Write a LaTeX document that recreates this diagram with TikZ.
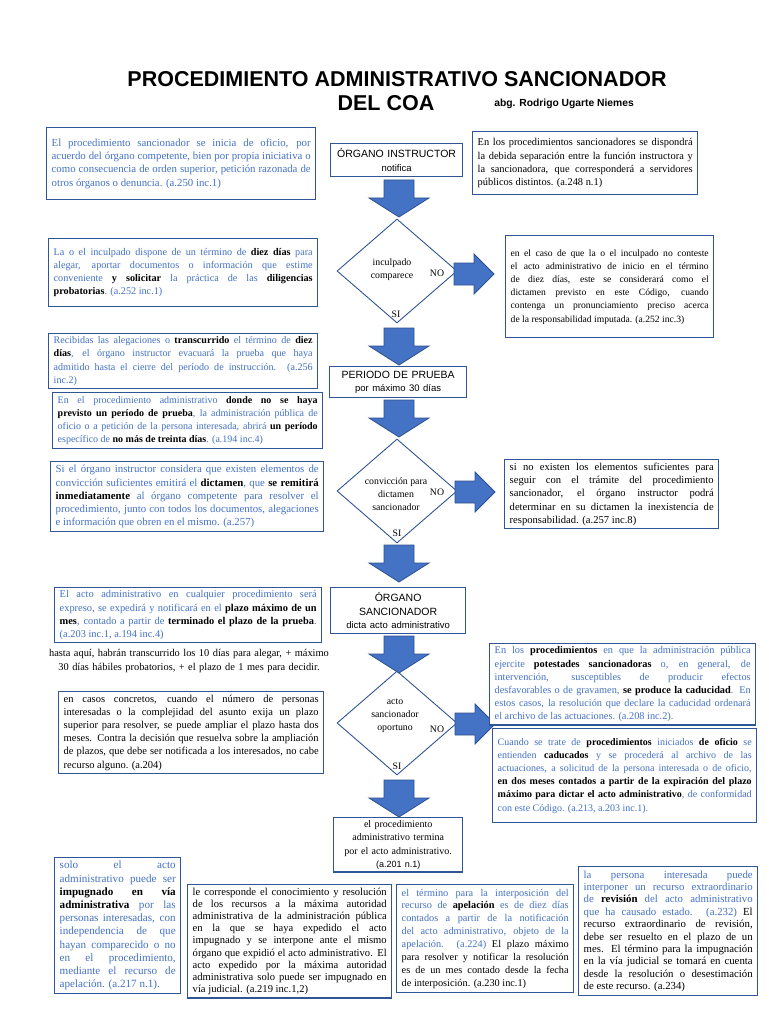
\documentclass[tikz,border=0pt]{standalone}
\usepackage{fontspec}
\setmainfont{Liberation Serif}[WordSpace={1,4,0}]
\setsansfont{Liberation Sans}
\usetikzlibrary{shapes.geometric}

\definecolor{boxblue}{RGB}{47,85,151}
\definecolor{txtblue}{RGB}{68,114,196}
\definecolor{arrowblue}{RGB}{68,114,196}
\definecolor{arrowline}{RGB}{47,82,143}

\hyphenpenalty=10000
\exhyphenpenalty=10000
\emergencystretch=20pt
\hbadness=10000

\newcommand{\bk}[1]{\textcolor{black}{\textbf{#1}}}
\newcommand{\nl}{\linebreak}
\newcommand{\fs}[1]{\fontsize{#1}{13.2}\selectfont}
% block arrows of the flow, tip down or tip right
\newcommand{\downblock}[2]{\draw[blockarrow, shift={(#1,#2)}] (-15,0) -- (15,0) -- (15,18) -- (30,18) -- (0,37) -- (-30,18) -- (-15,18) -- cycle;}
\newcommand{\rightblock}[2]{\draw[blockarrow, shift={(#1,#2)}] (0,-11) -- (20,-11) -- (20,-20) -- (40,0) -- (20,20) -- (20,11) -- (0,11) -- cycle;}

\tikzset{every picture/.style={line width=0.75pt},
  notebox/.style={draw=boxblue, line width=1.4pt, fill=white, anchor=north west, inner xsep=5pt, inner ysep=3pt, align=justify, font=\fs{10.6}, text=txtblue},
  plainbox/.style={notebox, text=black},
  fsize/.style={font=\fs{#1}},
  stagebox/.style={draw=boxblue, line width=1.2pt, fill=white, anchor=north west, inner sep=2pt, align=center, font=\sffamily\fontsize{10.5}{13.5}\selectfont},
  decision/.style={diamond, draw=boxblue, line width=0.9pt, fill=white, minimum width=120pt, minimum height=104pt, inner sep=0pt},
  dectext/.style={font=\fs{9.8}, align=center, inner sep=0pt},
  blockarrow/.style={fill=arrowblue, draw=arrowline, line width=0.8pt}
}

\begin{document}
\begin{tikzpicture}[x=1pt,y=1pt,yscale=-1,xscale=1]
    \useasboundingbox (0,0) rectangle (768,1024);
    \fill[white] (0,0) rectangle (768,1024);

    % Title
    \node[font=\sffamily\bfseries\fontsize{21.5}{24}\selectfont] (titulo) at (397,79) {PROCEDIMIENTO ADMINISTRATIVO SANCIONADOR};
    \node[font=\sffamily\bfseries\fontsize{21.5}{24}\selectfont] (titulo2) at (386,103) {DEL COA};
    \node[font=\sffamily\bfseries\fontsize{10.3}{12}\selectfont, anchor=west, inner sep=0pt] (autor) at (494,104) {abg. Rodrigo Ugarte Niemes};

    %Decisions
    \node[decision] (comparece) at (397,271) {};
    \node[decision] (conviccion) at (397,491) {};
    \node[decision] (oportuno) at (397,723) {};

    % Text Node
    \node[dectext] (comparecetxt) at (392,270) {inculpado\\comparece};
    \node[dectext] (no1) at (437,273) {NO};
    \node[dectext] (si1) at (396,314) {SI};
    \node[dectext] (convicciontxt) at (396,494) {convicción para\\dictamen\\sancionador};
    \node[dectext] (no2) at (437,492) {NO};
    \node[dectext] (si2) at (397,533) {SI};
    \node[dectext] (oportunotxt) at (395,716) {acto\\sancionador\\oportuno};
    \node[dectext] (no3) at (437,729) {NO};
    \node[dectext] (si3) at (397,766) {SI};

    %Block arrows down the central column
    \downblock{399}{180}
    \downblock{399}{328}
    \downblock{399}{400}
    \downblock{399}{545}
    \downblock{399}{636}
    \downblock{399}{780}
    %Block arrows to the right (NO)
    \rightblock{454}{274}
    \rightblock{455}{492}
    \rightblock{455}{724}

    %Central stage boxes
    \node[stagebox, text width=128pt, minimum height=33pt] (instructor) at (330,143) {ÓRGANO INSTRUCTOR\\{\fontsize{9.5}{11}\selectfont notifica}};
    \node[stagebox, text width=133pt, minimum height=31pt] (periodo) at (329,366) {PERIODO DE PRUEBA\\{\fontsize{9.5}{11}\selectfont por máximo 30 días}};
    \node[stagebox, text width=131pt, minimum height=46pt] (sancionador) at (330,587) {ÓRGANO\\SANCIONADOR\\{\fontsize{9.5}{11}\selectfont dicta acto administrativo}};
    \node[plainbox, fsize=10, align=center, text width=119pt, minimum height=53pt] (termina) at (333,817) {el procedimiento\\administrativo termina\\por el acto administrativo.\\{\sffamily\fontsize{9}{12}\selectfont (a.201 n.1)}};

    %Left notes
    \node[notebox, fsize=10.8, text width=259pt, minimum height=72pt] (inicio) at (46,127) {El procedimiento sancionador se inicia de oficio, por \nl acuerdo del órgano competente, bien por propia iniciativa o \nl como consecuencia de orden superior, petición razonada de \nl otros órganos o denuncia. (a.250 inc.1)};
    \node[notebox, fsize=10.2, text width=259pt, minimum height=68pt] (alegar) at (48,238) {La o el inculpado dispone de un término de \bk{diez días} para \nl alegar, aportar documentos o información que estime \nl conveniente \bk{y solicitar} la práctica de las \bk{diligencias} \nl \bk{probatorias}. (a.252 inc.1)};
    \node[notebox, fsize=10.1, text width=259pt, minimum height=54pt] (evacua) at (48,333) {Recibidas las alegaciones o \bk{transcurrido} el término de \bk{diez} \nl \bk{días}, el órgano instructor evacuará la prueba que haya \nl admitido hasta el cierre del período de instrucción. (a.256 \nl inc.2)};
    \node[notebox, fsize=10, text width=260pt, minimum height=56pt] (sinprueba) at (52,392) {En el procedimiento administrativo \bk{donde no se haya} \nl \bk{previsto un período de prueba}, la administración pública de \nl oficio o a petición de la persona interesada, abrirá \bk{un período} \nl específico de \bk{no más de treinta días}. (a.194 inc.4)};
    \node[notebox, fsize=10.8, text width=263pt, minimum height=70pt] (dictamen) at (50,461) {Si el órgano instructor considera que existen elementos de \nl convicción suficientes emitirá el \bk{dictamen}, que \bk{se remitirá} \nl \bk{inmediatamente} al órgano competente para resolver el \nl procedimiento, junto con todos los documentos, alegaciones \nl e información que obren en el mismo. (a.257)};
    \node[notebox, fsize=10.4, text width=257pt, minimum height=54pt] (expreso) at (54,587) {El acto administrativo en cualquier procedimiento será \nl expreso, se expedirá y notificará en el \bk{plazo máximo de un} \nl \bk{mes}, contado a partir de \bk{terminado el plazo de la prueba}. \nl (a.203 inc.1, a.194 inc.4)};
    % Text Node
    \node[fsize=10.4, align=center, text width=292pt, inner sep=0pt] (resumen) at (189,661) {hasta aquí, habrán transcurrido los 10 días para alegar, + máximo\\30 días hábiles probatorios, + el plazo de 1 mes para decidir.};
    \node[plainbox, fsize=10.5, text width=255pt, minimum height=77pt] (ampliar) at (58,691) {en casos concretos, cuando el número de personas \nl interesadas o la complejidad del asunto exija un plazo \nl superior para resolver, se puede ampliar el plazo hasta dos \nl meses. Contra la decisión que resuelva sobre la ampliación \nl de plazos, que debe ser notificada a los interesados, no cabe \nl recurso alguno. (a.204)};

    %Right notes
    \node[plainbox, fsize=10.4, text width=215pt, minimum height=63pt] (separacion) at (472,131) {En los procedimientos sancionadores se dispondrá \nl la debida separación entre la función instructora y \nl la sancionadora, que corresponderá a servidores \nl públicos distintos. (a.248 n.1)};
    \node[plainbox, fsize=9.6, text width=198pt, minimum height=102pt] (nocontesta) at (505,235) {en el caso de que la o el inculpado no conteste \nl el acto administrativo de inicio en el término \nl de diez días, este se considerará como el \nl dictamen previsto en este Código, cuando \nl contenga un pronunciamiento preciso acerca \nl de la responsabilidad imputada. (a.252 inc.3)};
    \node[plainbox, fsize=10.6, text width=204pt, minimum height=69pt] (inexistencia) at (504,459) {si no existen los elementos suficientes para \nl seguir con el trámite del procedimiento \nl sancionador, el órgano instructor podrá \nl determinar en su dictamen la inexistencia de \nl responsabilidad. (a.257 inc.8)};
    \node[notebox, fsize=10.3, text width=256pt, minimum height=77pt] (caducidad) at (489,643) {En los \bk{procedimientos} en que la administración pública \nl ejercite \bk{potestades sancionadoras} o, en general, de \nl intervención, susceptibles de producir efectos \nl desfavorables o de gravamen, \bk{se produce la caducidad}. En \nl estos casos, la resolución que declare la caducidad ordenará \nl el archivo de las actuaciones. (a.208 inc.2).};
    \node[notebox, fsize=10, text width=254pt, minimum height=94pt] (caducados) at (492,728) {Cuando se trate de \bk{procedimientos} iniciados \bk{de oficio} se \nl entienden \bk{caducados} y se procederá al archivo de las \nl actuaciones, a solicitud de la persona interesada o de oficio, \nl \bk{en dos meses contados a partir de la expiración del plazo} \nl \bk{máximo para dictar el acto administrativo}, de conformidad \nl con este Código. (a.213, a.203 inc.1).};

    %Bottom row
    \node[notebox, fsize=11.1, text width=116pt, minimum height=136pt] (impugnado) at (54,857) {solo el acto \nl administrativo puede ser \nl \bk{impugnado en vía} \nl \bk{administrativa} por las \nl personas interesadas, con \nl independencia de que \nl hayan comparecido o no \nl en el procedimiento, \nl mediante el recurso de \nl apelación. (a.217 n.1).};
    \node[plainbox, font=\fontsize{10.6}{12.2}\selectfont, text width=194pt, minimum height=111pt] (autoridad) at (187,884) {le corresponde el conocimiento y resolución \nl de los recursos a la máxima autoridad \nl administrativa de la administración pública \nl en la que se haya expedido el acto \nl impugnado y se interpone ante el mismo \nl órgano que expidió el acto administrativo. El \nl acto expedido por la máxima autoridad \nl administrativa solo puede ser impugnado en \nl vía judicial. (a.219 inc.1,2)};
    \node[notebox, font=\fontsize{10.3}{12.9}\selectfont, text width=167pt, minimum height=108pt] (apelacion) at (396,884) {el término para la interposición del \nl recurso de \bk{apelación} es de diez días \nl contados a partir de la notificación \nl del acto administrativo, objeto de la \nl apelación. (a.224) \textcolor{black}{El plazo máximo \nl para resolver y notificar la resolución \nl es de un mes contado desde la fecha \nl de interposición. (a.230 inc.1)}};
    \node[notebox, font=\fontsize{10.8}{12.4}\selectfont, text width=169pt, minimum height=129pt] (revision) at (578,866) {la persona interesada puede \nl interponer un recurso extraordinario \nl de \bk{revisión} del acto administrativo \nl que ha causado estado. (a.232) \textcolor{black}{El \nl recurso extraordinario de revisión, \nl debe ser resuelto en el plazo de un \nl mes. El término para la impugnación \nl en la vía judicial se tomará en cuenta \nl desde la resolución o desestimación \nl de este recurso. (a.234)}};

\end{tikzpicture}
\end{document}
